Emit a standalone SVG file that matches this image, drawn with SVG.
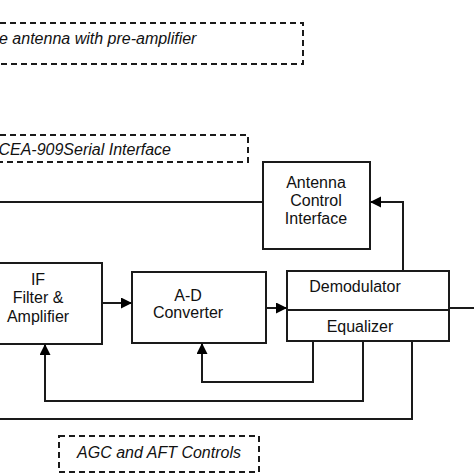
<svg xmlns="http://www.w3.org/2000/svg" width="474" height="474" viewBox="0 0 474 474">
<defs>
<marker id="ah" markerWidth="12" markerHeight="12" refX="11" refY="5.5" orient="auto" markerUnits="userSpaceOnUse">
<path d="M0,0 L11,5.5 L0,11 Z" fill="#000"/>
</marker>
<style>
.box{fill:#fff;stroke:#1a1a1a;stroke-width:2}
.dash{fill:none;stroke:#1a1a1a;stroke-width:2;stroke-dasharray:6 4}
.t{font-family:"Liberation Sans",Arial,sans-serif;font-size:16px;fill:#111;text-anchor:middle}
.i{font-family:"Liberation Sans",Arial,sans-serif;font-size:16px;font-style:italic;fill:#111}
.c{fill:none;stroke:#1a1a1a;stroke-width:2}
</style>
</defs>
<rect width="474" height="474" fill="#fff"/>
<g id="antenna-note">
<rect class="dash" x="-10" y="23" width="313" height="41"/>
<text class="i" x="-1" y="44">e antenna with pre-amplifier</text>
</g>
<g id="serial-note">
<rect class="dash" x="-10" y="135" width="258" height="27"/>
<text class="i" x="-6" y="155">/CEA-909Serial Interface</text>
</g>
<g id="agc-note">
<rect class="dash" x="59" y="436" width="200" height="36"/>
<text class="i" x="159" y="458" text-anchor="middle">AGC and AFT Controls</text>
</g>
<g id="antenna-control">
<rect class="box" x="263" y="162" width="107" height="87"/>
<text class="t" x="316" y="188">Antenna</text>
<text class="t" x="316" y="206">Control</text>
<text class="t" x="316" y="224">Interface</text>
</g>
<g id="if-filter">
<rect class="box" x="-25" y="263" width="127" height="81"/>
<text class="t" x="38" y="285">IF</text>
<text class="t" x="38" y="303">Filter &amp;</text>
<text class="t" x="38" y="322">Amplifier</text>
</g>
<g id="ad-converter">
<rect class="box" x="132" y="272" width="134" height="71"/>
<text class="t" x="188" y="301">A-D</text>
<text class="t" x="188" y="318">Converter</text>
</g>
<g id="demodulator">
<rect class="box" x="287" y="271" width="162" height="70"/>
<line class="c" x1="287" y1="310" x2="449" y2="310"/>
<text class="t" x="355" y="292">Demodulator</text>
<text class="t" x="360" y="332">Equalizer</text>
</g>
<g id="connectors">
<line class="c" x1="0" y1="202" x2="263" y2="202"/>
<polyline class="c" points="403,271 403,202 370,202" marker-end="url(#ah)"/>
<line class="c" x1="102" y1="303" x2="132" y2="303" marker-end="url(#ah)"/>
<line class="c" x1="266" y1="308" x2="287" y2="308" marker-end="url(#ah)"/>
<line class="c" x1="449" y1="308" x2="474" y2="308"/>
<polyline class="c" points="313,341 313,382 202,382 202,343" marker-end="url(#ah)"/>
<polyline class="c" points="363,341 363,401 45,401 45,344" marker-end="url(#ah)"/>
<polyline class="c" points="412,341 412,419 0,419"/>
</g>
</svg>
